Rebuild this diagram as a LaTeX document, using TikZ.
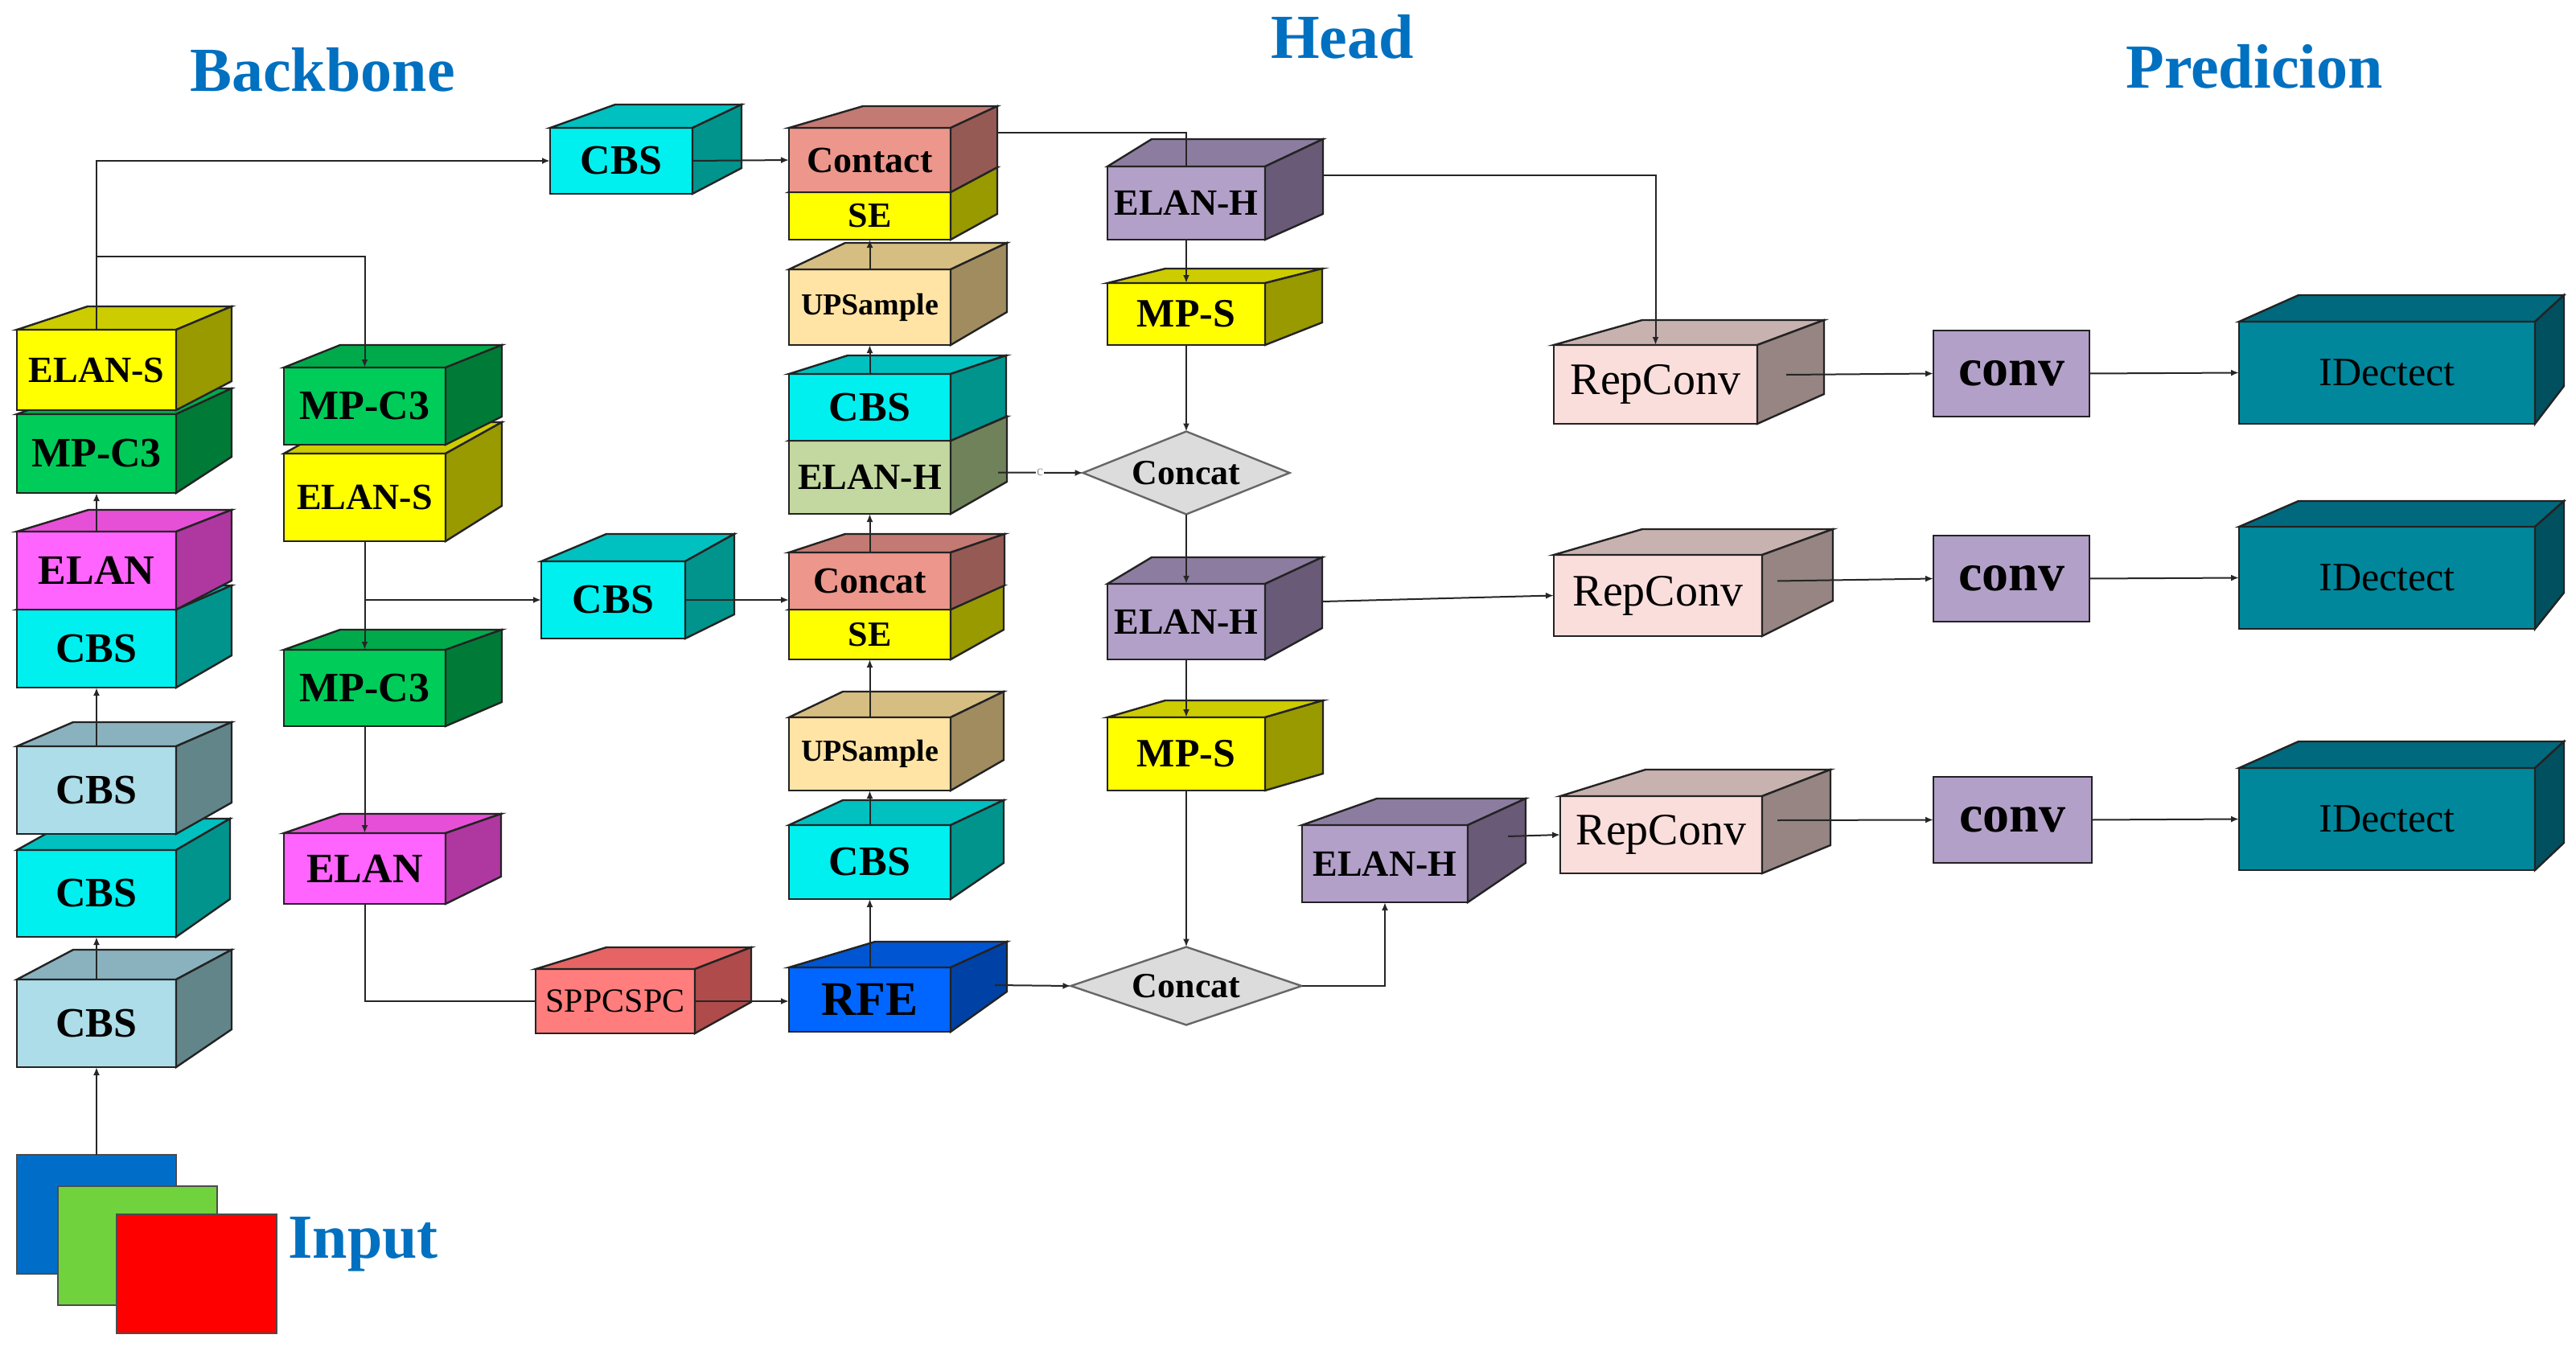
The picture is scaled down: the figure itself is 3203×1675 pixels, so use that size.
\documentclass[tikz,border=0pt]{standalone}
\usepackage{fontspec}
\setmainfont{Liberation Serif}
\usetikzlibrary{calc,arrows.meta,shapes.geometric}

\definecolor{edge}{RGB}{35,35,35}
\definecolor{cyF}{RGB}{0,240,240}\definecolor{cyT}{RGB}{0,192,192}\definecolor{cyS}{RGB}{0,148,140}
\definecolor{lbF}{RGB}{173,221,232}\definecolor{lbT}{RGB}{138,178,190}\definecolor{lbS}{RGB}{98,133,138}
\definecolor{ylF}{RGB}{255,255,0}\definecolor{ylT}{RGB}{204,204,0}\definecolor{ylS}{RGB}{153,153,0}
\definecolor{grF}{RGB}{0,204,90}\definecolor{grT}{RGB}{0,170,75}\definecolor{grS}{RGB}{0,122,55}
\definecolor{mgF}{RGB}{255,100,255}\definecolor{mgT}{RGB}{230,80,215}\definecolor{mgS}{RGB}{175,55,160}
\definecolor{pkF}{RGB}{236,150,140}\definecolor{pkT}{RGB}{195,122,115}\definecolor{pkS}{RGB}{150,90,85}
\definecolor{upF}{RGB}{255,228,165}\definecolor{upT}{RGB}{214,190,130}\definecolor{upS}{RGB}{160,140,95}
\definecolor{ghF}{RGB}{195,216,160}\definecolor{ghT}{RGB}{150,170,120}\definecolor{ghS}{RGB}{112,130,90}
\definecolor{puF}{RGB}{178,160,200}\definecolor{puT}{RGB}{140,125,160}\definecolor{puS}{RGB}{105,90,120}
\definecolor{spF}{RGB}{255,125,125}\definecolor{spT}{RGB}{230,100,100}\definecolor{spS}{RGB}{175,75,75}
\definecolor{rfF}{RGB}{0,102,255}\definecolor{rfT}{RGB}{0,85,210}\definecolor{rfS}{RGB}{0,65,165}
\definecolor{rcF}{RGB}{250,222,220}\definecolor{rcT}{RGB}{200,178,175}\definecolor{rcS}{RGB}{150,133,130}
\definecolor{idF}{RGB}{0,135,155}\definecolor{idT}{RGB}{0,105,125}\definecolor{idS}{RGB}{0,80,95}
\definecolor{ttlc}{RGB}{0,112,192}
\definecolor{inBl}{RGB}{0,110,200}
\definecolor{inGr}{RGB}{112,210,60}
\definecolor{catF}{RGB}{220,220,220}

\newcommand\fsz[1]{\fontsize{#1}{#1}\selectfont}

% front face as a named node
\newcommand\cubebox[7]{%
  \pgfmathsetmacro\bxw{(#4-#2)*0.5}%
  \pgfmathsetmacro\bxh{(#5-#3)*0.5}%
  \pgfmathsetmacro\bxcx{(#2+#4)/2}%
  \pgfmathsetmacro\bxcy{(#3+#5)/2}%
  \node[front,#6,minimum width=\bxw pt,minimum height=\bxh pt] (#1) at (\bxcx,\bxcy) {#7};}
% top and side faces of a named front node
\newcommand\cubefaces[7]{%
  \filldraw[face,fill=#6] (#1.north west) -- ++(#2,-#4) -- ($(#1.north east)+(#3,-#4)$) -- (#1.north east) -- cycle;
  \filldraw[face,fill=#7] (#1.north east) -- ++(#3,-#4) -- ($(#1.south east)+(#3,-#5)$) -- (#1.south east) -- cycle;}

\tikzset{
  front/.style={draw=edge,line width=1.2pt,inner sep=0pt,outer sep=0pt,text=black,align=center},
  face/.style={draw=edge,line width=1.2pt,line join=miter},
  bb/.style={font={\fsz{26}\bfseries}},
  bs/.style={font={\fsz{23}\bfseries}},
  ttl/.style={font={\fsz{39}\bfseries},text=ttlc,inner sep=0pt},
  cat/.style={diamond,aspect=2.5,draw=black!60,line width=1.2pt,fill=catF,inner sep=0pt,
              outer sep=0pt,font={\fsz{22}\bfseries}},
  arr/.style={draw=black!85,line width=1pt,-{Latex[length=5pt,width=4pt]}},
  ln/.style={draw=black!85,line width=1pt},
  insq/.style={draw=black!70,line width=1pt,inner sep=0pt,outer sep=0pt}
}

\begin{document}
\begin{tikzpicture}[x=0.5pt,y=-0.5pt]
\useasboundingbox (0,0) rectangle (3203,1675);

% ---------- titles ----------
\node[ttl,anchor=base] (tB) at (401,114) {Backbone};
\node[ttl,anchor=base] (tH) at (1669,73) {Head};
\node[ttl,anchor=base] (tP) at (2803,110) {Predicion};
\node[ttl,anchor=base west] (tI) at (358,1564) {Input};

% ---------- input ----------
\cubebox{inB}{21}{1436}{219}{1584}{insq,fill=inBl}{}
\cubebox{inG}{72}{1475}{270}{1623}{insq,fill=inGr}{}
\cubebox{inR}{145}{1510}{344}{1658}{insq,fill=red}{}

% ---------- backbone column 1 ----------
\cubebox{lcbsA}{21}{1218}{219}{1327}{fill=lbF,bb}{CBS}\cubefaces{lcbsA}{70}{69}{37}{47}{lbT}{lbS}
\cubebox{lcbsB}{21}{1057}{219}{1165}{fill=cyF,bb}{CBS}\cubefaces{lcbsB}{70}{67}{39}{47}{cyT}{cyS}
\cubebox{lcbsC}{21}{928}{219}{1037}{fill=lbF,bb}{CBS}\cubefaces{lcbsC}{70}{69}{30}{39}{lbT}{lbS}
\cubebox{lcbsD}{21}{758}{219}{855}{fill=cyF,bb}{CBS}\cubefaces{lcbsD}{88}{69}{30}{40}{cyT}{cyS}
\cubebox{lelan}{21}{661}{219}{758}{fill=mgF,bb}{ELAN}\cubefaces{lelan}{89}{69}{27}{36}{mgT}{mgS}
\cubebox{lmpc}{21}{515}{219}{613}{fill=grF,bb}{MP-C3}\cubefaces{lmpc}{88}{69}{32}{45}{grT}{grS}
\cubebox{lelans}{21}{410}{219}{510}{fill=ylF,bs}{ELAN-S}\cubefaces{lelans}{88}{69}{29}{36}{ylT}{ylS}

% ---------- backbone column 2 ----------
\cubebox{elanB}{353}{1036}{554}{1124}{fill=mgF,bb}{ELAN}\cubefaces{elanB}{70}{69}{24}{34}{mgT}{mgS}
\cubebox{mpcB}{353}{808}{554}{903}{fill=grF,bb}{MP-C3}\cubefaces{mpcB}{70}{70}{25}{30}{grT}{grS}
\cubebox{elansA}{353}{564}{554}{673}{fill=ylF,bs}{ELAN-S}\cubefaces{elansA}{70}{70}{39}{44}{ylT}{ylS}
\cubebox{mpcA}{353}{457}{554}{553}{fill=grF,bb}{MP-C3}\cubefaces{mpcA}{70}{70}{28}{35}{grT}{grS}

% ---------- middle ----------
\cubebox{cbsT}{684}{159}{861}{241}{fill=cyF,bb}{CBS}\cubefaces{cbsT}{81}{61}{29}{32}{cyT}{cyS}
\cubebox{cbsM}{673}{698}{852}{794}{fill=cyF,bb}{CBS}\cubefaces{cbsM}{81}{61}{34}{30}{cyT}{cyS}
\cubebox{spp}{666}{1205}{864}{1285}{fill=spF,font={\fsz{21}}}{SPPCSPC}\cubefaces{spp}{88}{70}{27}{39}{spT}{spS}

% ---------- head column 1 ----------
\cubebox{seT}{981}{239}{1182}{298}{fill=ylF,font={\fsz{22}\bfseries}}{SE}\cubefaces{seT}{70}{58}{31}{32}{ylT}{ylS}
\cubebox{conT}{981}{159}{1182}{239}{fill=pkF,font={\fsz{23}\bfseries}}{Contact}\cubefaces{conT}{92}{58}{27}{31}{pkT}{pkS}
\cubebox{upT}{981}{335}{1182}{429}{fill=upF,font={\fsz{19}\bfseries}}{UPSample}\cubefaces{upT}{70}{70}{33}{41}{upT}{upS}
\cubebox{elanG}{981}{548}{1182}{639}{fill=ghF,bs}{ELAN-H}\cubefaces{elanG}{70}{70}{30}{40}{ghT}{ghS}
\cubebox{cbsH}{981}{465}{1182}{548}{fill=cyF,bb}{CBS}\cubefaces{cbsH}{73}{69}{23}{30}{cyT}{cyS}
\cubebox{seM}{981}{758}{1182}{820}{fill=ylF,font={\fsz{22}\bfseries}}{SE}\cubefaces{seM}{70}{66}{30}{37}{ylT}{ylS}
\cubebox{conM}{981}{687}{1182}{758}{fill=pkF,font={\fsz{23}\bfseries}}{Concat}\cubefaces{conM}{70}{67}{23}{30}{pkT}{pkS}
\cubebox{upL}{981}{892}{1182}{983}{fill=upF,font={\fsz{19}\bfseries}}{UPSample}\cubefaces{upL}{67}{66}{32}{38}{upT}{upS}
\cubebox{cbsHL}{981}{1026}{1182}{1118}{fill=cyF,bb}{CBS}\cubefaces{cbsHL}{67}{66}{31}{45}{cyT}{cyS}
\cubebox{rfe}{981}{1203}{1182}{1283}{fill=rfF,font={\fsz{30}\bfseries}}{RFE}\cubefaces{rfe}{107}{70}{32}{50}{rfT}{rfS}

% ---------- head column 2 ----------
\cubebox{elanhT}{1377}{207}{1573}{298}{fill=puF,bs}{ELAN-H}\cubefaces{elanhT}{55}{72}{34}{32}{puT}{puS}
\cubebox{mpsT}{1377}{352}{1573}{429}{fill=ylF,font={\fsz{25}\bfseries}}{MP-S}\cubefaces{mpsT}{72}{71}{18}{28}{ylT}{ylS}
\cubebox{elanhM}{1377}{726}{1573}{820}{fill=puF,bs}{ELAN-H}\cubefaces{elanhM}{55}{71}{33}{39}{puT}{puS}
\cubebox{mpsL}{1377}{892}{1573}{983}{fill=ylF,font={\fsz{25}\bfseries}}{MP-S}\cubefaces{mpsL}{72}{72}{21}{21}{ylT}{ylS}
\cubebox{elanhL}{1619}{1026}{1825}{1122}{fill=puF,bs}{ELAN-H}\cubefaces{elanhL}{93}{72}{33}{49}{puT}{puS}
\node[cat,minimum width=128.5pt,minimum height=51.5pt] (cat1) at (1475,588) {Concat};
\node[cat,minimum width=143.5pt,minimum height=48.5pt] (cat2) at (1475,1226) {Concat};

% ---------- prediction ----------
\cubebox{rep1}{1932}{429}{2185}{527}{fill=rcF,font={\fsz{28}}}{RepConv}\cubefaces{rep1}{110}{83}{31}{37}{rcT}{rcS}
\cubebox{rep2}{1932}{690}{2191}{791}{fill=rcF,font={\fsz{28}}}{RepConv}\cubefaces{rep2}{110}{88}{32}{44}{rcT}{rcS}
\cubebox{rep3}{1940}{990}{2191}{1086}{fill=rcF,font={\fsz{28}}}{RepConv}\cubefaces{rep3}{106}{85}{33}{35}{rcT}{rcS}
\cubebox{conv1}{2404}{411}{2598}{518}{fill=puF,font={\fsz{33}\bfseries}}{conv}
\cubebox{conv2}{2404}{666}{2598}{773}{fill=puF,font={\fsz{33}\bfseries}}{conv}
\cubebox{conv3}{2404}{966}{2601}{1073}{fill=puF,font={\fsz{33}\bfseries}}{conv}
\cubebox{id1}{2784}{400}{3152}{527}{fill=idF,font={\fsz{25}}}{IDectect}\cubefaces{id1}{74}{36}{33}{47}{idT}{idS}
\cubebox{id2}{2784}{655}{3152}{782}{fill=idF,font={\fsz{25}}}{IDectect}\cubefaces{id2}{74}{36}{32}{45}{idT}{idS}
\cubebox{id3}{2784}{955}{3152}{1082}{fill=idF,font={\fsz{25}}}{IDectect}\cubefaces{id3}{74}{36}{33}{34}{idT}{idS}

% ---------- connectors ----------
\draw[arr] (inB.north) -- (lcbsA.south);
\draw[arr] (lcbsA.north) -- (lcbsB.south);
\draw[arr] (lcbsC.north) -- (lcbsD.south);
\draw[arr] (lelan.north) -- (lmpc.south);
\draw[arr] (lelans.north) |- (cbsT.west);
\draw[arr] ($(lelans.north)+(0,-91)$) -| (mpcA.north);
\draw[arr] (elansA.south) -- (mpcB.north);
\draw[arr] (elansA.south |- cbsM.west) -- (cbsM.west);
\draw[arr] (mpcB.south) -- (elanB.north);
\draw[ln] (elanB.south) |- (spp.west);
\draw[arr] (spp.east) -- (spp.east -| rfe.west);
\draw[arr] (rfe.north) -- (cbsHL.south);
\draw[arr] (cbsHL.north) -- (upL.south);
\draw[arr] (upL.north) -- (seM.south);
\draw[arr] (cbsM.east) -- (cbsM.east -| conM.west);
\draw[arr] (conM.north) -- (elanG.south);
\draw[arr] (cbsH.north) -- (upT.south);
\draw[arr] (upT.north) -- (seT.south);
\draw[arr] (cbsT.east) -- (conT.west);
\draw[ln] ($(conT.north east)+(58,6)$) -| (elanhT.north);
\draw[arr] (elanhT.south) -- (mpsT.north);
\draw[arr] (mpsT.south) -- (cat1.north);
\draw[arr] ($(elanG.east)+(59,-6)$) -- (cat1.west);
\node[fill=white,inner sep=0.5pt,text=black!40,font={\fsz{9}}] (cmark) at (1293,587) {c};
\draw[arr] (cat1.south) -- (elanhM.north);
\draw[arr] (elanhM.south) -- (mpsL.north);
\draw[arr] (mpsL.south) -- (cat2.north);
\draw[arr] ($(rfe.east)+(55,-18)$) -- (cat2.west);
\draw[arr] (cat2.east) -| (elanhL.south);
\draw[arr] ($(elanhT.east)+(71,-35)$) -| (rep1.north);
\draw[arr] ($(elanhM.east)+(71,-25)$) -- (rep2.west);
\draw[arr] ($(elanhL.east)+(50,-34)$) -- (rep3.west);
\draw[arr] ($(rep1.east)+(36,-12)$) -- (conv1.west);
\draw[arr] (conv1.east) -- (id1.west);
\draw[arr] ($(rep2.east)+(19,-18)$) -- (conv2.west);
\draw[arr] (conv2.east) -- (id2.west);
\draw[arr] ($(rep3.east)+(19,-18)$) -- (conv3.west);
\draw[arr] (conv3.east) -- (id3.west);
\end{tikzpicture}
\end{document}
